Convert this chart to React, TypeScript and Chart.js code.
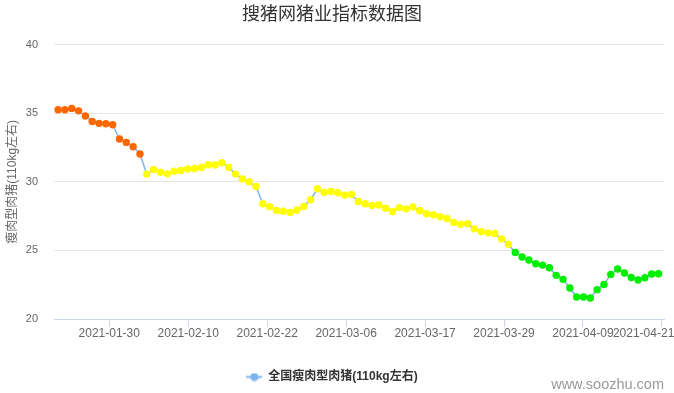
import React, { useEffect, useRef } from 'react';
import { Chart, registerables } from 'chart.js';

Chart.register(...registerables);

// ---- data ----
const chartTitle = '搜猪网猪业指标数据图';
const seriesName = '全国瘦肉型肉猪(110kg左右)';
const yAxisTitle = '瘦肉型肉猪(110kg左右)';
const watermark = 'www.soozhu.com';

// daily series, first point on this date
const startDate = '2021-01-23';
const prices = [
  35.25, 35.25, 35.35, 35.17, 34.8, 34.4, 34.26, 34.23, 34.16, 33.12,
  32.87, 32.55, 32.03, 30.56, 30.9, 30.7, 30.58, 30.77, 30.82, 30.94,
  30.97, 31.04, 31.24, 31.22, 31.39, 31.05, 30.56, 30.2, 30.0, 29.66,
  28.4, 28.18, 27.92, 27.86, 27.77, 27.94, 28.2, 28.69, 29.49, 29.23,
  29.3, 29.2, 29.03, 29.08, 28.57, 28.4, 28.27, 28.31, 28.07, 27.84,
  28.12, 28.03, 28.17, 27.89, 27.67, 27.6, 27.45, 27.33, 27.04, 26.9,
  26.95, 26.57, 26.37, 26.28, 26.23, 25.84, 25.45, 24.85, 24.52, 24.3,
  24.03, 23.93, 23.74, 23.18, 22.89, 22.26, 21.6, 21.6, 21.53, 22.14,
  22.52, 23.25, 23.64, 23.35, 23.03, 22.84, 23.01, 23.28, 23.3,
];
const xTickLabels = [
  '2021-01-30', '2021-02-10', '2021-02-22', '2021-03-06',
  '2021-03-17', '2021-03-29', '2021-04-09', '2021-04-21',
];
const yMin = 20;
const yMax = 40;
const yStep = 5;

// zone thresholds for marker colours
const zoneHighFrom = 32;
const zoneLowBelow = 25;
const zoneHighColor = '#ff6600';
const zoneMidColor = '#ffff00';
const zoneLowColor = '#00ee00';
const lineColor = '#7cb5ec';

const FONT = '"Liberation Sans", "Noto Sans CJK SC", sans-serif';
const DAY = 86400000;
const dayOf = (s: string) => (Date.parse(s) - Date.parse(startDate)) / DAY;

function zoneColor(v: number | undefined) {
  if (v === undefined || v === null) return zoneMidColor;
  if (v > zoneHighFrom) return zoneHighColor;
  if (v < zoneLowBelow) return zoneLowColor;
  return zoneMidColor;
}

function makeLegendSymbol() {
  const c = document.createElement('canvas');
  c.width = 16;
  c.height = 9;
  const g = c.getContext('2d')!;
  g.strokeStyle = lineColor;
  g.lineWidth = 2;
  g.beginPath();
  g.moveTo(0, 4.5);
  g.lineTo(16, 4.5);
  g.stroke();
  g.fillStyle = lineColor;
  g.beginPath();
  g.arc(8, 4.5, 4, 0, Math.PI * 2);
  g.fill();
  return c;
}

export default function App() {
  const ref = useRef<HTMLCanvasElement>(null);

  useEffect(() => {
    const canvas = ref.current;
    if (!canvas) return;
    Chart.defaults.font.family = FONT;

    const points = prices.map((y, i) => ({ x: i, y }));
    const firstTick = dayOf(xTickLabels[0]) + 0.5;
    const lastTick = dayOf(xTickLabels[xTickLabels.length - 1]) + 0.5;
    const tickStep = (lastTick - firstTick) / (xTickLabels.length - 1);

    const watermarkPlugin = {
      id: 'watermark',
      afterDraw(chart: any) {
        const ctx = chart.ctx;
        ctx.save();
        ctx.font = `14.5px ${FONT}`;
        ctx.fillStyle = '#999999';
        ctx.textAlign = 'right';
        ctx.textBaseline = 'middle';
        ctx.fillText(watermark, chart.width - 10, 385);
        ctx.restore();
      },
    };

    const chart = new Chart(canvas, {
      type: 'line',
      data: {
        datasets: [
          {
            label: seriesName,
            data: points,
            borderColor: lineColor,
            borderWidth: 1.5,
            tension: 0,
            pointRadius: 3.7,
            pointHoverRadius: 3.7,
            pointBorderWidth: 0,
            pointBackgroundColor: (ctx: any) => zoneColor(ctx.raw ? ctx.raw.y : undefined),
            pointBorderColor: (ctx: any) => zoneColor(ctx.raw ? ctx.raw.y : undefined),
            backgroundColor: lineColor,
            fill: false,
          },
        ],
      },
      options: {
        animation: false,
        responsive: false,
        layout: { autoPadding: false, padding: { left: 0, right: 10, top: 0, bottom: 0 } },
        plugins: {
          title: {
            display: true,
            text: chartTitle,
            color: '#333333',
            font: { size: 18, weight: 'normal', family: FONT },
            padding: { top: 4, bottom: 19 },
          },
          legend: {
            position: 'bottom',
            labels: {
              usePointStyle: true,
              pointStyle: makeLegendSymbol() as any,
              pointStyleWidth: 16,
              color: '#333333',
              font: { size: 12, weight: 'bold', family: FONT },
              padding: 10,
            },
          },
          tooltip: { enabled: false },
        },
        scales: {
          x: {
            type: 'linear',
            min: -0.6,
            max: 88.8,
            afterFit: (s: any) => {
              s.height = 42;
              s.paddingLeft = 0;
              s.paddingRight = 0;
            },
            afterBuildTicks: (s: any) => {
              s.ticks = xTickLabels.map((_, k) => ({ value: firstTick + k * tickStep }));
            },
            ticks: {
              autoSkip: false,
              maxRotation: 0,
              minRotation: 0,
              padding: -1,
              color: '#666666',
              font: { size: 12, family: FONT },
              callback: (_v: any, i: number) =>
                i === xTickLabels.length - 1
                  ? xTickLabels[i] + '\u00a0'.repeat(11)
                  : xTickLabels[i],
            },
            grid: {
              drawOnChartArea: false,
              drawTicks: true,
              tickLength: 8,
              color: '#ccd6eb',
            },
            border: { display: true, color: '#ccd6eb', width: 1 },
          },
          y: {
            min: yMin,
            max: yMax,
            afterFit: (s: any) => {
              s.width = 54;
              s.paddingTop = 0;
              s.paddingBottom = 0;
            },
            ticks: {
              stepSize: yStep,
              padding: 16,
              color: '#666666',
              font: { size: 11, family: FONT },
            },
            grid: { color: '#e6e6e6', drawTicks: false },
            border: { display: false },
            title: {
              display: true,
              text: yAxisTitle,
              color: '#666666',
              font: { size: 12, family: FONT },
              padding: { top: 5, bottom: 0 },
            },
          },
        },
      },
      plugins: [watermarkPlugin],
    } as any);

    return () => chart.destroy();
  }, []);

  return (
    <div style={{ position: 'absolute', left: 0, top: 0, width: 674, height: 393 }}>
      <canvas ref={ref} width={674} height={393} />
    </div>
  );
}
